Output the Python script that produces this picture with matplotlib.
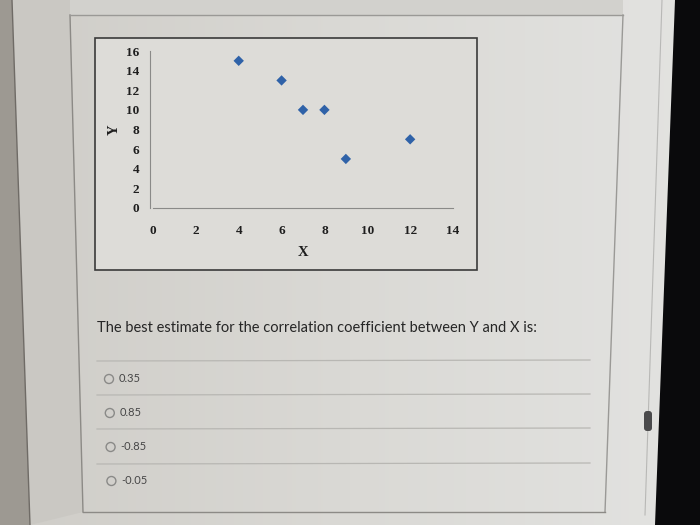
import matplotlib
matplotlib.use("Agg")
import matplotlib.pyplot as plt
import numpy as np
from matplotlib.patches import Polygon, Rectangle, Circle, FancyBboxPatch
from matplotlib.colors import LinearSegmentedColormap

x_vals = [4, 6, 7, 8, 9, 12]
y_vals = [15, 13, 10, 10, 5, 7]
x_ticks = [0, 2, 4, 6, 8, 10, 12, 14]
y_ticks = [0, 2, 4, 6, 8, 10, 12, 14, 16]
question = "The best estimate for the correlation coefficient between Y and X is:"
options = ["0.35", "0.85", "-0.85", "-0.05"]

W, H = 700, 525
fig = plt.figure(figsize=(7, 5.25), dpi=100)

# background overlay in pixel coordinates
bg = fig.add_axes([0, 0, 1, 1], zorder=0)
bg.set_xlim(0, W)
bg.set_ylim(H, 0)
bg.axis("off")

grad = np.linspace(0, 1, 256)[None, :]
cm = LinearSegmentedColormap.from_list("pg", ["#cfcdc8", "#dad9d5", "#e3e3e1"])
bg.imshow(grad, extent=[0, W, H, 0], aspect="auto", cmap=cm, zorder=0)

bg.add_patch(Polygon([(0, 0), (12, 0), (30, H), (0, H)], closed=True,
                     facecolor="#9d9992", edgecolor="none", zorder=1))
bg.plot([12, 30], [0, H], color="#6f6b66", lw=1, zorder=2)
bg.add_patch(Polygon([(12, 0), (70, 0), (83, 512), (30, H)], closed=True,
                     facecolor="#cac8c3", edgecolor="none", zorder=1))
bg.add_patch(Polygon([(675, 0), (W, 0), (W, H), (655, H)], closed=True,
                     facecolor="#0a0a0c", edgecolor="none", zorder=1))
bg.plot([662, 645], [0, 515], color="#b8b8b6", lw=0.8, zorder=2)
bg.plot([70, 83], [15, 512], color="#8c8a86", lw=1, zorder=2)
bg.plot([623, 605], [15, 512], color="#9a9996", lw=1, zorder=2)
bg.plot([70, 623], [15, 15], color="#9a9996", lw=1, zorder=2)
bg.plot([83, 605], [512, 512], color="#8c8a86", lw=1, zorder=2)
bg.add_patch(Polygon([(70, 0), (623, 0), (623, 15), (70, 15)], closed=True,
                     facecolor="#d2d1cd", edgecolor="none", zorder=1))
bg.add_patch(FancyBboxPatch((645, 412), 6, 18, boxstyle="round,pad=1,rounding_size=3",
                            facecolor="#4a4a4c", edgecolor="none", zorder=3))
bg.add_patch(Rectangle((95, 38), 382, 232, facecolor="#dddcd8",
                       edgecolor="#3a3a3a", lw=1.2, zorder=2))

bg.text(97, 328, question, fontsize=10.5, family="Lato", color="#262626",
        va="center", ha="left", zorder=3)
sep_y = [361, 395, 429, 464]
for y in sep_y:
    bg.plot([97, 590], [y, y - 1], color="#b8b7b3", lw=0.9, zorder=3)
opt_y = [379, 413, 447, 481]
for i, (lab, y) in enumerate(zip(options, opt_y)):
    cx = 109 + i * 0.8
    bg.add_patch(Circle((cx, y), 4.5, facecolor="none", edgecolor="#8a8a88",
                        lw=1, zorder=3))
    bg.text(cx + 10, y, lab, fontsize=8, family="Lato", color="#464646",
            va="center", ha="left", zorder=3)

# chart axes
x0, x1 = 153, 453
ytop, ybot = 51, 208
ax = fig.add_axes([x0 / W, 1 - ybot / H, (x1 - x0) / W, (ybot - ytop) / H], zorder=2)
ax.patch.set_alpha(0)
ax.set_xlim(0, 14)
ax.set_ylim(0, 16)
ax.scatter(x_vals, y_vals, marker="D", s=28, color="#2f62a8", edgecolors="none",
           zorder=3, clip_on=False)
for s in ["top", "right"]:
    ax.spines[s].set_visible(False)
ax.spines["left"].set_color("#8a8a88")
ax.spines["bottom"].set_color("#8a8a88")
ax.spines["left"].set_position(("outward", 2))
ax.set_xticks(x_ticks)
ax.set_yticks(y_ticks)
ax.tick_params(length=0, labelsize=9.5)
ax.tick_params(axis="x", pad=12)
ax.tick_params(axis="y", pad=8)
for lab in ax.get_xticklabels() + ax.get_yticklabels():
    lab.set_family("Liberation Serif")
    lab.set_fontweight("bold")
    lab.set_color("#1e1e1e")
ax.set_xlabel("X", family="Liberation Serif", fontweight="bold", fontsize=10.5,
              labelpad=7, color="#1e1e1e")
ax.set_ylabel("Y", family="Liberation Serif", fontweight="bold", fontsize=10.5,
              labelpad=4, color="#1e1e1e")

fig.savefig("out.png", dpi=100)
